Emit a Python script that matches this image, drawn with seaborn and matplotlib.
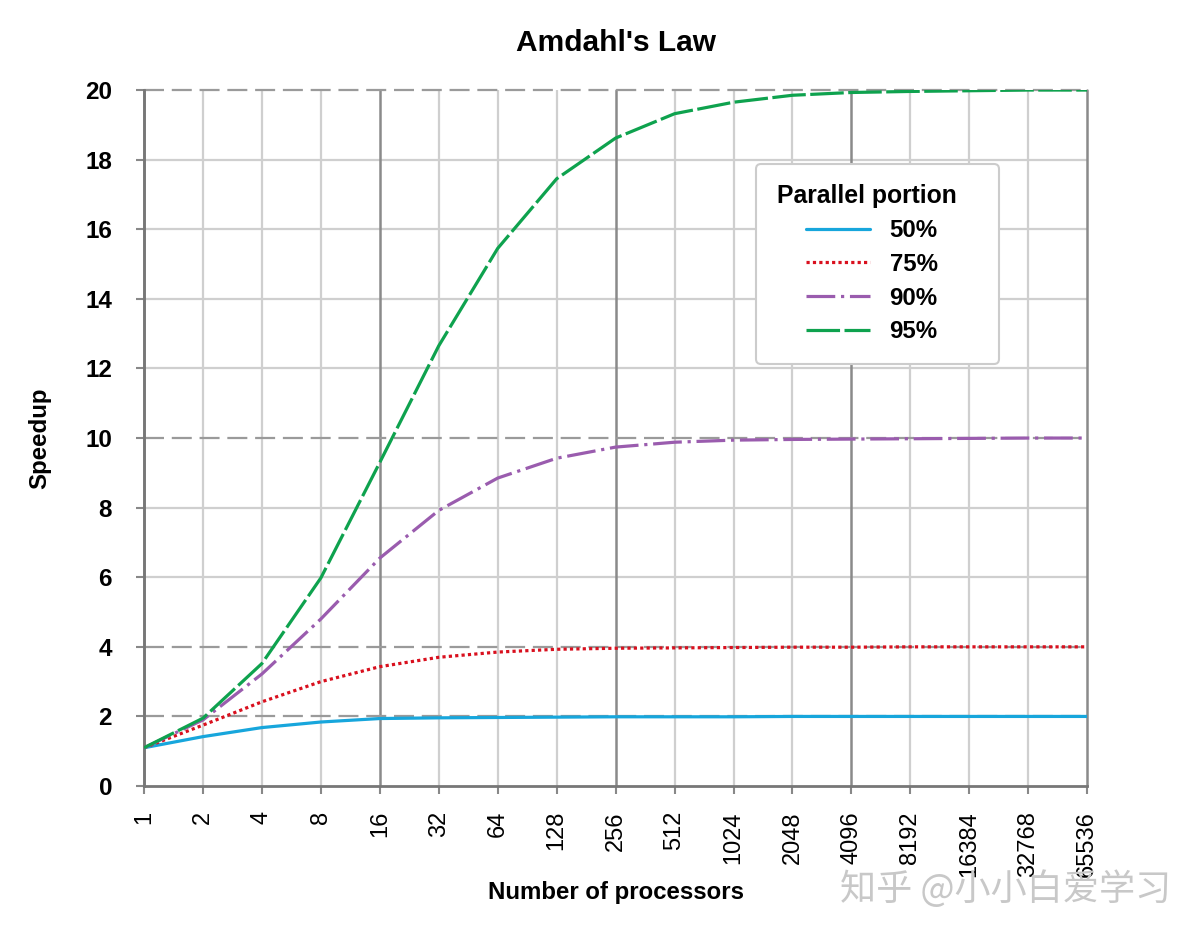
import numpy as np
import pandas as pd
import matplotlib.pyplot as plt
import seaborn as sns
from matplotlib.offsetbox import DrawingArea

# processor counts on the x axis (powers of two)
processors = [1, 2, 4, 8, 16, 32, 64, 128, 256, 512, 1024, 2048, 4096,
              8192, 16384, 32768, 65536]

# speedup values
speedup_50 = [1.1, 1.42, 1.68, 1.84, 1.94, 1.96, 1.97, 1.98, 1.99, 1.99,
              1.99, 2.0, 2.0, 2.0, 2.0, 2.0, 2.0]
speedup_75 = [1.1, 1.75, 2.42, 3.0, 3.43, 3.7, 3.85, 3.93, 3.96, 3.97,
              3.98, 3.99, 3.99, 4.0, 4.0, 4.0, 4.0]
speedup_90 = [1.1, 1.9, 3.22, 4.8, 6.55, 7.92, 8.85, 9.42, 9.74, 9.88,
              9.94, 9.96, 9.97, 9.98, 9.99, 10.0, 10.0]
speedup_95 = [1.1, 1.95, 3.52, 5.98, 9.3, 12.65, 15.45, 17.45, 18.62, 19.32,
              19.65, 19.85, 19.93, 19.96, 19.98, 20.0, 20.0]
portions = ['50%', '75%', '90%', '95%']

data = pd.DataFrame({
    'Processors': processors * 4,
    'Speedup': speedup_50 + speedup_75 + speedup_90 + speedup_95,
    'Parallel portion': [p for p in portions for _ in processors],
})

sns.set_style('white')
plt.rcParams['font.family'] = ['Liberation Sans', 'DejaVu Sans']
plt.rcParams['text.color'] = 'black'
plt.rcParams['axes.labelcolor'] = 'black'
plt.rcParams['xtick.color'] = 'black'
plt.rcParams['ytick.color'] = 'black'

palette = {'50%': '#17a6dc', '75%': '#d9101e', '90%': '#9a5cae', '95%': '#0ea24e'}
dashes = {'50%': '', '75%': (1, 1), '90%': (9, 1.8, 1, 1.8), '95%': (10.5, 1.4)}

fig = plt.figure(figsize=(12, 9.38), dpi=100)
ax = fig.add_axes([0.12, 0.162, 0.786, 0.742])

# grid: light lines everywhere, darker ones at chosen values
minor_grey = '#cfcfcf'
major_grey = '#8a8a8a'
for y in [6, 8, 12, 14, 16, 18]:
    ax.axhline(y, color=minor_grey, lw=1.6, zorder=0)
for y in [2, 4, 10, 20]:
    ax.axhline(y, color='#9a9a9a', lw=1.6, ls=(0, (9, 3.5)), zorder=0.5, clip_on=False)
for x in processors:
    if x in (1, 16, 256, 4096, 65536):
        ax.axvline(x, color=major_grey, lw=1.8, zorder=0.4, clip_on=False)
    else:
        ax.axvline(x, color=minor_grey, lw=1.6, zorder=0)

sns.lineplot(data=data, x='Processors', y='Speedup', hue='Parallel portion',
             style='Parallel portion', palette=palette, dashes=dashes,
             linewidth=2.3, ax=ax, zorder=3)

ax.set_xscale('log', base=2)
ax.set_xlim(1, 65536)
ax.set_ylim(0, 20)
ax.set_xticks(processors)
ax.set_xticklabels([str(p) for p in processors], rotation=90, fontsize=17)
ax.minorticks_off()
ax.set_yticks(range(0, 21, 2))
ax.set_yticklabels([str(v) for v in range(0, 21, 2)], fontsize=17.5, fontweight='bold')
ax.tick_params(axis='both', direction='out', length=6, width=1.5, color='#888888',
               left=True, bottom=True)
ax.tick_params(axis='y', pad=17)
ax.tick_params(axis='x', pad=12)

for side in ['top', 'right']:
    ax.spines[side].set_visible(False)
for side in ['left', 'bottom']:
    ax.spines[side].set_color('#777777')
    ax.spines[side].set_linewidth(2)

ax.set_title("Amdahl's Law", fontsize=21.5, fontweight='bold', pad=28)
ax.set_xlabel('Number of processors', fontsize=17.3, fontweight='bold', labelpad=3)
ax.set_ylabel('Speedup', fontsize=17.3, fontweight='bold', labelpad=24)

handles, labels = ax.get_legend_handles_labels()
leg = ax.legend(handles, labels, title='Parallel portion', loc='upper left',
                bbox_to_anchor=(0.649, 0.612, 0.257, 0.282), mode='expand',
                borderaxespad=0, alignment='left',
                title_fontproperties={'weight': 'bold', 'size': 17.8},
                prop={'weight': 'bold', 'size': 17.3}, handlelength=2.7,
                handletextpad=0.8, labelspacing=0.45, borderpad=0.85,
                frameon=True, fancybox=True, edgecolor='#cccccc', framealpha=1)
leg.get_frame().set_linewidth(1.5)
for line in leg.get_lines():
    line.set_linewidth(2.3)

# indent the legend entries a little, like the original
for column in leg._legend_handle_box.get_children():
    for item in column.get_children():
        item.get_children().insert(0, DrawingArea(7, 0))

fig.text(0.700, 0.040, '知乎 @小小白爱学习', fontsize=26, color='#c8c8c8',
         family=['Noto Sans CJK SC', 'DejaVu Sans'])

fig.savefig('out.png', dpi=100)
